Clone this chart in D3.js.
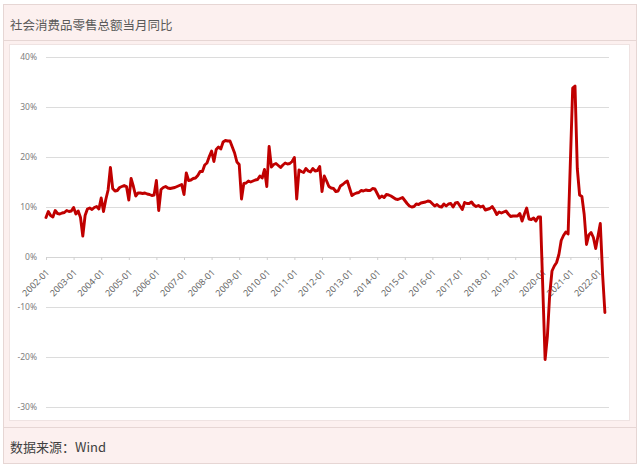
<!DOCTYPE html>
<html>
<head>
<meta charset="utf-8">
<script src="https://cdn.jsdelivr.net/npm/d3@7"></script>
<style>
  html, body { margin: 0; padding: 0; background: #ffffff; }
  svg { display: block; }
</style>
</head>
<body>
<svg id="chart" width="640" height="467"></svg>
<script>
// ---------- data ----------
const titleText = "社会消费品零售总额当月同比";
const sourceText = "数据来源：Wind";
const startYear = 2002;

// Monthly YoY (%) from 2002-01; null = no separate January value (line joins Dec → Feb)
const values2002_2006 = [
  7.9, 9.1, 8.3, 8.0, 9.3, 8.7, 8.6, 8.8, 8.9, 9.3, 9.1, 9.2,
  9.9, 8.6, 9.2, 7.9, 4.2, 8.3, 9.6, 9.8, 9.5, 9.9, 10.1, 9.6,
  11.8, 9.1, 11.5, 13.4, 17.9, 13.7, 13.2, 13.3, 13.9, 14.1, 14.3, 14.1,
  11.4, 15.7, 14.1, 12.2, 12.8, 12.8, 12.7, 12.8, 12.6, 12.5, 12.3, 12.4,
  15.3, 9.3, 13.5, 13.9, 14.1, 13.8, 13.7, 13.8, 13.9, 14.1, 14.3, 14.5
];
const values2007_2011 = [
  12.5, 16.8, 15.3, 15.4, 15.7, 15.8, 16.3, 17.1, 17.1, 18.4, 18.8, 20.1,
  21.2, 19.1, 21.5, 22.0, 21.6, 23.0, 23.3, 23.2, 23.2, 22.0, 20.8, 19.0,
  18.5, 11.6, 14.7, 14.8, 15.2, 15.0, 15.2, 15.4, 15.5, 16.2, 15.8, 17.5,
  14.1, 22.1, 18.0, 18.5, 18.7, 18.3, 17.9, 18.4, 18.8, 18.6, 18.7, 19.1,
  19.9, 11.6, 17.4, 17.1, 16.9, 17.7, 17.2, 17.0, 17.7, 17.2, 17.3, 18.1
];
const values2012_2016 = [
  13.1, 16.2, 15.2, 14.1, 13.8, 13.7, 13.1, 13.2, 14.2, 14.5, 14.9, 15.2,
  null, 12.3, 12.6, 12.8, 12.9, 13.3, 13.2, 13.4, 13.3, 13.3, 13.7, 13.6,
  null, 11.8, 12.2, 11.9, 12.5, 12.4, 12.2, 11.9, 11.6, 11.5, 11.7, 11.9,
  null, 10.7, 10.2, 10.0, 10.1, 10.6, 10.5, 10.8, 10.9, 11.0, 11.2, 11.1,
  null, 10.2, 10.5, 10.1, 10.0, 10.6, 10.2, 10.6, 10.7, 10.0, 10.8, 10.9
];
const values2017_2022 = [
  null, 9.5, 10.9, 10.7, 10.7, 11.0, 10.4, 10.1, 10.3, 10.0, 10.2, 9.4,
  null, 9.7, 10.1, 9.4, 8.5, 9.0, 8.8, 9.0, 9.2, 8.6, 8.1, 8.2,
  null, 8.2, 8.7, 7.2, 8.6, 9.8, 7.6, 7.5, 7.8, 7.2, 8.0, 8.0,
  null, -20.5, -15.8, -7.5, -2.8, -1.8, -1.1, 0.5, 3.3, 4.3, 5.0, 4.6,
  null, 33.8, 34.2, 17.7, 12.4, 12.1, 8.5, 2.5, 4.4, 4.9, 3.9, 1.7,
  null, 6.7, -3.5, -11.1
];
const values = [].concat(values2002_2006, values2007_2011, values2012_2016, values2017_2022);

const xTickLabels = ["2002-01","2003-01","2004-01","2005-01","2006-01","2007-01","2008-01",
  "2009-01","2010-01","2011-01","2012-01","2013-01","2014-01","2015-01","2016-01","2017-01",
  "2018-01","2019-01","2020-01","2021-01","2022-01"];
const yTicks = [40, 30, 20, 10, 0, -10, -20, -30];

// categories "YYYY-MM" for each value
const categories = values.map((v, i) =>
  `${startYear + Math.floor(i / 12)}-${String(i % 12 + 1).padStart(2, "0")}`);

// ---------- layout ----------
const svg = d3.select("#chart");
const frameStroke = "#e6d6d4";
const pink = "#fcf0ef";

svg.append("rect").attr("x", 3.5).attr("y", 4.5).attr("width", 633).attr("height", 459)
  .attr("fill", pink).attr("stroke", frameStroke);
svg.append("line").attr("x1", 3.5).attr("x2", 636.5).attr("y1", 40.5).attr("y2", 40.5)
  .attr("stroke", frameStroke);
svg.append("line").attr("x1", 3.5).attr("x2", 636.5).attr("y1", 427.5).attr("y2", 427.5)
  .attr("stroke", frameStroke);
svg.append("rect").attr("x", 9.5).attr("y", 44.5).attr("width", 620).attr("height", 376)
  .attr("fill", "#ffffff").attr("stroke", "#efe3e2");

svg.append("text").attr("x", 10).attr("y", 24).attr("dominant-baseline", "central")
  .attr("font-family", "'Noto Sans CJK SC', sans-serif").attr("font-size", 12.5)
  .attr("fill", "#5a5a5a").text(titleText);
svg.append("text").attr("x", 10).attr("y", 446).attr("dominant-baseline", "central")
  .attr("font-family", "'Noto Sans CJK SC', sans-serif").attr("font-size", 13)
  .attr("fill", "#404040").text(sourceText);

// ---------- scales ----------
const x0 = 46, xYear = 27.6;
const x = d3.scaleLinear().domain([0, 240]).range([x0, x0 + xYear * 20]);
const y = d3.scaleLinear().domain([-30, 40]).range([407, 57]);
const gridRight = 609;

// y axis with grid
const yAxis = d3.axisLeft(y).tickValues(yTicks).tickSize(-(gridRight - x0))
  .tickPadding(9).tickFormat(d => d + "%");
const gy = svg.append("g").attr("transform", `translate(${x0},0)`).call(yAxis);
gy.select(".domain").remove();
gy.selectAll(".tick line").attr("stroke", "#dcdcdc").attr("stroke-width", 1);
gy.selectAll(".tick text").attr("font-family", "'Noto Sans', sans-serif")
  .attr("font-size", 8.5).attr("fill", "#808080");

// x axis at 0%
const tickIdx = xTickLabels.map(s => categories.indexOf(s));
const xAxis = d3.axisBottom(x).tickValues(tickIdx).tickSize(3)
  .tickFormat((d, i) => xTickLabels[i]);
const gx = svg.append("g").attr("transform", `translate(0,${y(0)})`).call(xAxis);
gx.select(".domain").attr("stroke", "#d5d5d5").attr("d", `M${x0},0.5H${gridRight}`);
gx.selectAll(".tick line").attr("stroke", "#d0d0d0");
gx.selectAll(".tick text")
  .attr("font-family", "'Noto Sans', sans-serif").attr("font-size", 9).attr("fill", "#666666")
  .attr("text-anchor", "end").attr("dy", null).attr("y", null)
  .attr("transform", "translate(3.5,16) rotate(-45)");

// ---------- line ----------
const pts = values.map((v, i) => ({ i, v })).filter(d => d.v !== null);
const line = d3.line().x(d => x(d.i)).y(d => y(d.v)).curve(d3.curveLinear);
svg.append("path").datum(pts).attr("d", line).attr("fill", "none")
  .attr("stroke", "#c00000").attr("stroke-width", 2.9)
  .attr("stroke-linejoin", "round").attr("stroke-linecap", "round");
</script>
</body>
</html>
